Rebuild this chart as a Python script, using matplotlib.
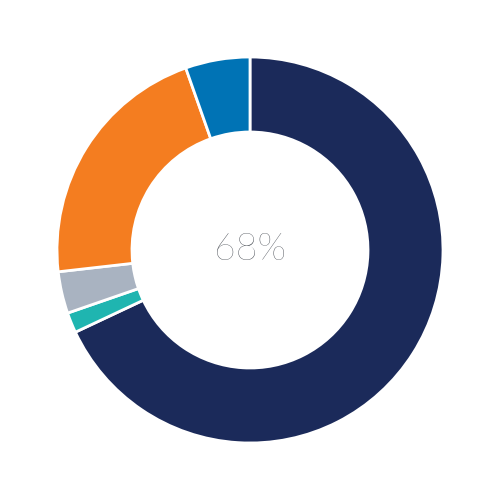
import matplotlib
matplotlib.use("Agg")
import matplotlib.pyplot as plt

labels = ["A", "B", "C", "D", "E"]
values = [68, 1.7, 3.5, 21.4, 5.4]
colors = ["#1b2a5a", "#1fb5b0", "#a9b3c1", "#f47d20", "#0073b5"]
center_text = "68%"

fig = plt.figure(figsize=(5, 5), dpi=100)
ax = fig.add_axes([0, 0, 1, 1])
ax.pie(values, colors=colors, startangle=90, counterclock=False, radius=0.772,
       wedgeprops=dict(width=0.30, edgecolor="white", linewidth=2))
ax.text(0, 0, center_text, ha="center", va="center", fontsize=27,
        color="#3a3f47", family=["Lato", "DejaVu Sans"], fontweight="light")
ax.set_xlim(-1, 1)
ax.set_ylim(-1, 1)
ax.set_aspect("equal")
ax.axis("off")
fig.savefig("out.png", dpi=100, facecolor="white")
